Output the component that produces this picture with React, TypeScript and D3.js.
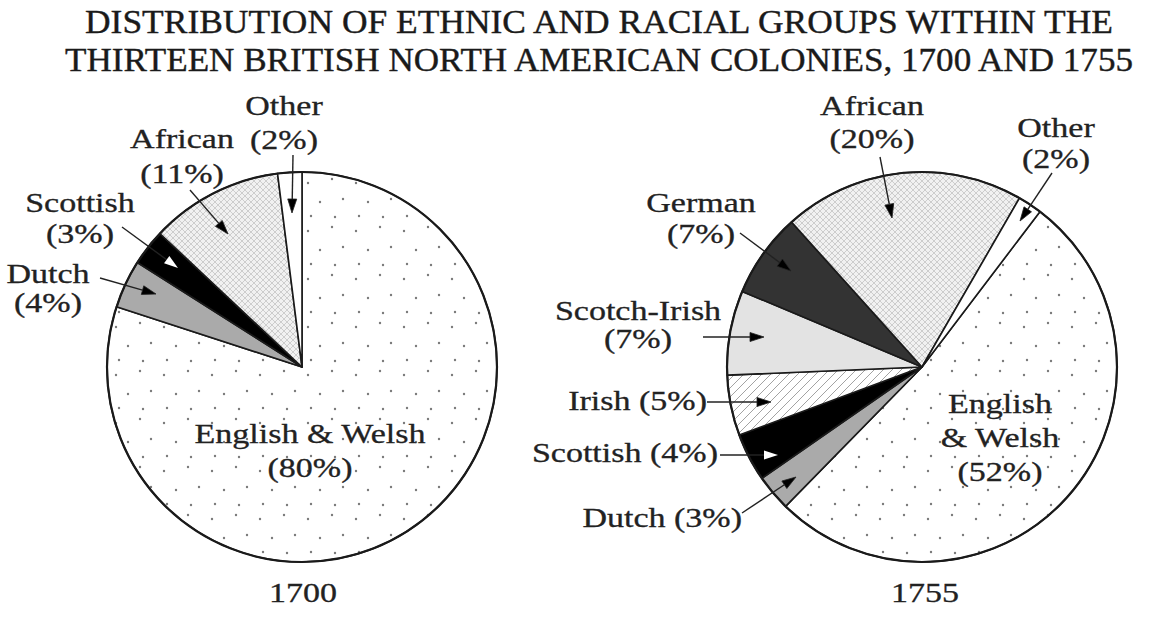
import React from "react";
import * as d3 from "d3";

// ---------- data ----------
const titleLines = [
  "DISTRIBUTION OF ETHNIC AND RACIAL GROUPS WITHIN THE",
  "THIRTEEN BRITISH NORTH AMERICAN COLONIES, 1700 AND 1755",
];
const years = ["1700", "1755"];

const groups1700 = ["English & Welsh", "Dutch", "Scottish", "African", "Other"];
const shares1700 = [80, 4, 3, 11, 2];

const groups1755 = [
  "English & Welsh",
  "Dutch",
  "Scottish",
  "Irish",
  "Scotch-Irish",
  "German",
  "African",
  "Other",
];
const shares1755 = [52, 3, 4, 5, 7, 7, 20, 2];

// ---------- styling / layout ----------
const fills: Record<string, string> = {
  "English & Welsh": "url(#dots)",
  Dutch: "#aaaaaa",
  Scottish: "#000000",
  African: "url(#cross)",
  Other: "#ffffff",
  Irish: "url(#hatch)",
  "Scotch-Irish": "#e3e3e3",
  German: "#333333",
};

type Lay = {
  x: number;
  y: number;
  dy?: number;
  mode: "stack" | "inline" | "split3";
  anchor?: "start" | "middle" | "end";
  arrow?: [number, number, number, number];
  head?: string;
};

const layout1700: Record<string, Lay> = {
  "English & Welsh": { x: 310, y: 443, dy: 34, mode: "stack" },
  Other: { x: 284, y: 115, dy: 34, mode: "stack", arrow: [293, 155, 292, 213], head: "#000" },
  African: { x: 182, y: 148, dy: 35, mode: "stack", arrow: [190, 190, 228, 234], head: "#000" },
  Scottish: { x: 80, y: 212, dy: 31, mode: "stack", arrow: [122, 227, 178, 268], head: "#fff" },
  Dutch: { x: 48, y: 283, dy: 29, mode: "stack", arrow: [100, 278, 156, 294], head: "#000" },
};

const layout1755: Record<string, Lay> = {
  "English & Welsh": { x: 1000, y: 413, dy: 34, mode: "split3" },
  African: { x: 872, y: 115, dy: 33, mode: "stack", arrow: [880, 157, 892, 218], head: "#000" },
  Other: { x: 1056, y: 137, dy: 31, mode: "stack", arrow: [1052, 173, 1020, 221], head: "#000" },
  German: { x: 701, y: 212, dy: 31, mode: "stack", arrow: [740, 233, 791, 271], head: "#000" },
  "Scotch-Irish": { x: 638, y: 320, dy: 28, mode: "stack", arrow: [703, 337, 764, 337], head: "#000" },
  Irish: { x: 707, y: 410, mode: "inline", anchor: "end", arrow: [707, 402, 771, 402], head: "#000" },
  Scottish: { x: 718, y: 462, mode: "inline", anchor: "end", arrow: [720, 455, 778, 455], head: "#fff" },
  Dutch: { x: 742, y: 527, mode: "inline", anchor: "end", arrow: [742, 513, 796, 477], head: "#000" },
};

const FONT = "'Liberation Serif', 'Times New Roman', serif";
const FS = 27;
const SX = 1.26;
const R = 195;

const pies = [
  { groups: groups1700, shares: shares1700, cx: 302, cy: 367, start: 0, layout: layout1700, year: years[0], yearX: 303 },
  { groups: groups1755, shares: shares1755, cx: 922, cy: 367, start: 37.2, layout: layout1755, year: years[1], yearX: 925 },
];

function Label({ x, y, text, anchor = "middle", size = FS }: { x: number; y: number; text: string; anchor?: string; size?: number }) {
  return (
    <g transform={`translate(${x},${y}) scale(${SX},1)`}>
      <text
        x={0}
        y={0}
        textAnchor={anchor as any}
        fontFamily={FONT}
        fontSize={size}
        fill="#222"
        stroke="#222"
        strokeWidth={0.3}
      >
        {text}
      </text>
    </g>
  );
}

function Arrow({ a, head }: { a: [number, number, number, number]; head: string }) {
  const [x1, y1, x2, y2] = a;
  const ang = Math.atan2(y2 - y1, x2 - x1);
  const L = 14;
  const W = 4.5;
  const bx = x2 - L * Math.cos(ang);
  const by = y2 - L * Math.sin(ang);
  const px = -Math.sin(ang) * W;
  const py = Math.cos(ang) * W;
  return (
    <g>
      <line x1={x1} y1={y1} x2={bx} y2={by} stroke="#222" strokeWidth={1.4} />
      <polygon
        points={`${x2},${y2} ${bx + px},${by + py} ${bx - px},${by - py}`}
        fill={head}
        stroke={head === "#fff" ? "none" : "#222"}
        strokeWidth={0.8}
      />
    </g>
  );
}

function Pie({ p }: { p: (typeof pies)[number] }) {
  const data = p.groups.map((g, i) => ({ g, v: p.shares[i] }));
  const s = (p.start * Math.PI) / 180;
  const arcs = d3
    .pie<{ g: string; v: number }>()
    .sort(null)
    .value((d) => d.v)
    .startAngle(s)
    .endAngle(s + 2 * Math.PI)(data);
  const arc = d3.arc<d3.PieArcDatum<{ g: string; v: number }>>().innerRadius(0).outerRadius(R);
  return (
    <g>
      <g transform={`translate(${p.cx},${p.cy})`}>
        {arcs.map((a) => (
          <path key={a.data.g} d={arc(a) || ""} fill={fills[a.data.g]} stroke="#1a1a1a" strokeWidth={1.6} strokeLinejoin="round" />
        ))}
        <circle r={R} fill="none" stroke="#1a1a1a" strokeWidth={2.2} />
      </g>
      {data.map((d) => {
        const l = p.layout[d.g];
        if (!l) return null;
        const pct = `(${d.v}%)`;
        const out: React.ReactNode[] = [];
        if (l.mode === "inline") {
          out.push(<Label key="t" x={l.x} y={l.y} text={`${d.g} ${pct}`} anchor={l.anchor} />);
        } else if (l.mode === "split3") {
          const parts = d.g.split(" ");
          out.push(<Label key="a" x={l.x} y={l.y} text={parts[0]} />);
          out.push(<Label key="b" x={l.x} y={l.y + (l.dy || 0)} text={parts.slice(1).join(" ")} />);
          out.push(<Label key="c" x={l.x} y={l.y + 2 * (l.dy || 0)} text={pct} />);
        } else {
          out.push(<Label key="a" x={l.x} y={l.y} text={d.g} />);
          out.push(<Label key="b" x={l.x} y={l.y + (l.dy || 0)} text={pct} />);
        }
        if (l.arrow) out.push(<Arrow key="ar" a={l.arrow} head={l.head || "#000"} />);
        return <g key={d.g}>{out}</g>;
      })}
      <Label x={p.yearX} y={602} text={p.year} />
    </g>
  );
}

export default function App() {
  return (
    <svg
      width={1150}
      height={624}
      style={{ position: "absolute", left: 0, top: 0, display: "block", background: "#fff" }}
    >
      <defs>
        <pattern id="dots" patternUnits="userSpaceOnUse" width={48} height={48}>
          <rect width={48} height={48} fill="#fff" />
          <circle cx={6} cy={8} r={1.2} fill="#7a7a7a" />
          <circle cx={30} cy={4} r={1.2} fill="#7a7a7a" />
          <circle cx={18} cy={27} r={1.2} fill="#7a7a7a" />
          <circle cx={41} cy={24} r={1.2} fill="#7a7a7a" />
          <circle cx={9} cy={41} r={1.2} fill="#7a7a7a" />
          <circle cx={33} cy={42} r={1.2} fill="#7a7a7a" />
        </pattern>
        <pattern id="cross" patternUnits="userSpaceOnUse" width={6} height={6}>
          <rect width={6} height={6} fill="#f1f1f1" />
          <path d="M0,0 L6,6 M6,0 L0,6" stroke="#bdbdbd" strokeWidth={0.7} />
        </pattern>
        <pattern id="hatch" patternUnits="userSpaceOnUse" width={9} height={9}>
          <rect width={9} height={9} fill="#fff" />
          <path d="M-1,10 L10,-1 M-1,1 L1,-1 M8,10 L10,8" stroke="#8c8c8c" strokeWidth={0.8} />
        </pattern>
      </defs>
      {titleLines.map((t, i) => (
        <text
          key={i}
          x={i === 0 ? 85 : 65}
          y={i === 0 ? 33 : 71}
          textLength={i === 0 ? 1028 : 1068}
          lengthAdjust="spacingAndGlyphs"
          fontFamily={FONT}
          fontSize={34}
          fill="#1a1a1a"
          stroke="#1a1a1a"
          strokeWidth={0.4}
        >
          {t}
        </text>
      ))}
      {pies.map((p) => (
        <Pie key={p.year} p={p} />
      ))}
    </svg>
  );
}
